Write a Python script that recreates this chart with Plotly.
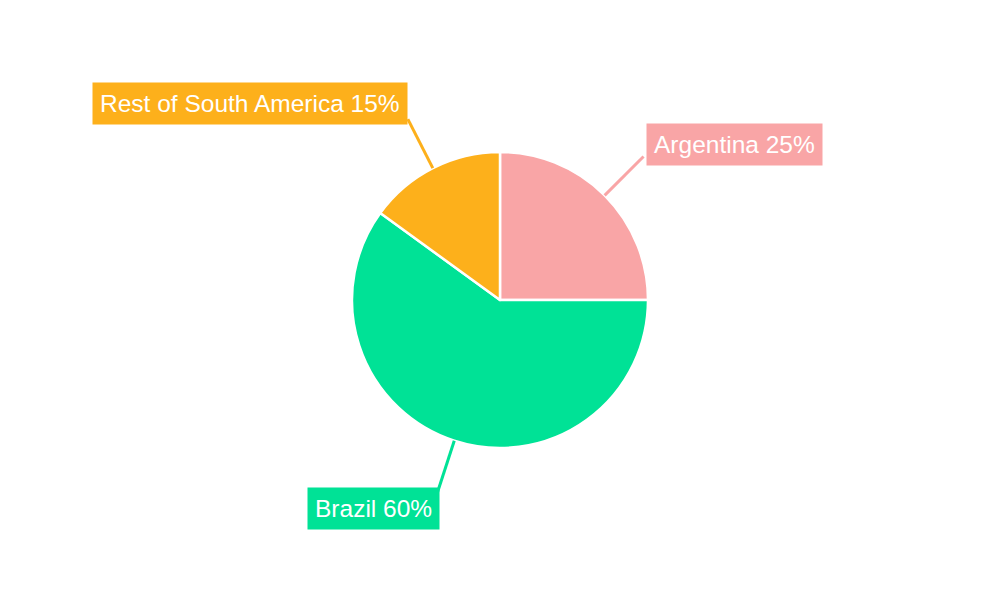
import math
import plotly.graph_objects as go

regions = ['Argentina', 'Brazil', 'Rest of South America']
shares = [25, 60, 15]
colors = ['#f9a5a6', '#00e296', '#fdb01b']

W, H = 1000, 600
# page body has an 8px margin, so work in figure coords shifted by it
off = 8
cx, cy, R = 500 - off, 300 - off, 148

fig = go.Figure()
fig.add_trace(go.Pie(labels=regions, values=shares,
                     marker=dict(colors=colors, line=dict(color='white', width=2.5)),
                     sort=False, direction='clockwise', rotation=0,
                     textinfo='none', hoverinfo='label+percent',
                     domain=dict(x=[(cx - R) / W, (cx + R) / W],
                                 y=[(H - cy - R) / H, (H - cy + R) / H]),
                     showlegend=False))

# leader lines + boxed labels, placed from each slice's mid angle
total = sum(shares)
start = 0
for name, val, col in zip(regions, shares, colors):
    mid = (start + val / 2) / total * 2 * math.pi
    start += val
    sx, sy = math.sin(mid), math.cos(mid)
    x0, y0 = cx + R * sx, cy - R * sy
    x1, y1 = cx + 203 * sx, cy - 203 * sy
    fig.add_shape(type='line', xref='paper', yref='paper',
                  x0=x0 / W, y0=1 - y0 / H, x1=x1 / W, y1=1 - y1 / H,
                  line=dict(color=col, width=3))
    if sx > 0:
        xa, ya, xs, ys = 'left', 'middle', 2, 12
    elif sy > 0:
        xa, ya, xs, ys = 'right', 'bottom', 0, -6
    else:
        xa, ya, xs, ys = 'right', 'top', 3, 6
    fig.add_annotation(xref='paper', yref='paper', x=x1 / W, y=1 - y1 / H,
                       xanchor=xa, yanchor=ya, xshift=xs, yshift=ys,
                       text=f'{name} {val}%', showarrow=False,
                       bgcolor=col, borderpad=7,
                       font=dict(family='Liberation Sans, Arial', size=24.5, color='white'))

fig.update_layout(width=W, height=H, margin=dict(l=0, r=0, t=0, b=0),
                  paper_bgcolor='white', plot_bgcolor='white')

fig.write_html("out.html")
